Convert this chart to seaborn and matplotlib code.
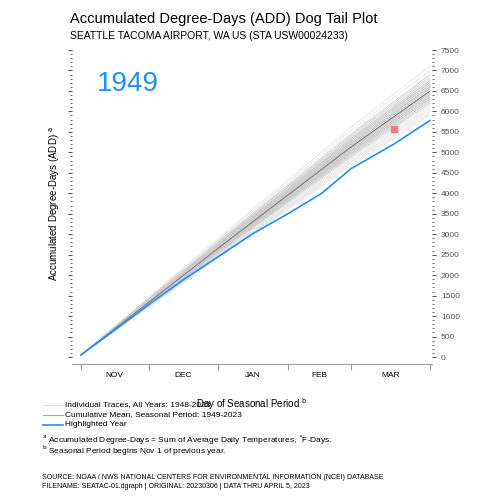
import numpy as np
import pandas as pd
import matplotlib
matplotlib.use("Agg")
import matplotlib.pyplot as plt
import seaborn as sns
from matplotlib.ticker import MultipleLocator

# checkpoints: day of seasonal period (Nov 1 = 1)
days_ck = [1, 31, 62, 93, 121, 156]
mean_ck = [50, 1330, 2660, 3960, 5130, 6490]
hl_days = [1, 16, 31, 46, 62, 77, 93, 108, 121, 140, 156]
hl_ck = [50, 660, 1280, 1870, 2450, 3000, 3500, 4000, 4600, 5200, 5775]

# estimated end-of-period totals, 1948-2023
years = list(range(1948, 2024))
end_totals = [6050, 5775, 5900, 6200, 6350, 6300, 6100, 6000, 5950, 6250, 6600, 6400,
              6350, 6450, 6300, 6500, 6250, 6400, 6550, 6300, 6350, 6150, 6450, 6200,
              6300, 6400, 6250, 6350, 6500, 6600, 6300, 6450, 6550, 6650, 6400, 6700,
              6350, 6200, 6600, 6750, 6500, 6300, 6450, 6650, 6800, 6400, 6550, 6700,
              6600, 6500, 6650, 6400, 6550, 6750, 6450, 6600, 6700, 6500, 6350, 6850,
              6600, 6700, 6550, 6900, 6750, 6650, 7000, 6800, 6600, 6900, 7100, 6750,
              6550, 6850, 6700, 6400]
highlight_year = 1949
point_day, point_val = 140, 5580

month_edges = [1, 31, 62, 93, 121, 156]
month_labels = ["NOV", "DEC", "JAN", "FEB", "MAR"]

days = np.arange(1, 157)
mean_curve = np.interp(days, days_ck, mean_ck)
hl_curve = np.interp(days, hl_days, hl_ck)

rows = []
for y, tot in zip(years, end_totals):
    if y == highlight_year:
        continue
    rows.append(pd.DataFrame({"day": days, "add": 50 + (mean_curve - 50) * (tot - 50) / (6490 - 50), "year": y}))
traces = pd.concat(rows)

plt.rcParams["font.family"] = ["Liberation Sans", "DejaVu Sans"]
fig = plt.figure(figsize=(5, 5), dpi=100)
ax = fig.add_axes([0.144, 0.286, 0.72, 0.614])

sns.lineplot(data=traces, x="day", y="add", units="year", estimator=None,
             color="#cccccc", lw=0.5, alpha=0.6, ax=ax, legend=False)
sns.lineplot(x=days, y=mean_curve, color="#777777", lw=0.7, ax=ax)
sns.lineplot(x=days, y=hl_curve, color="#1e90ff", lw=1.2, ax=ax)
ax.plot([point_day], [point_val], "s", color="#f08080", ms=4)

ax.set_xlim(-3, 157)
ax.set_ylim(0, 7500)
ax.yaxis.set_major_locator(MultipleLocator(500))
ax.yaxis.set_minor_locator(MultipleLocator(100))
ax.tick_params(axis="y", which="both", left=True, right=True, labelleft=False,
               labelright=True, labelsize=6, colors="#555555", length=3)
ax.tick_params(axis="y", which="minor", length=1.5)
ax.set_xticks(month_edges)
ax.set_xticklabels([])
ax.set_xticks([(a + b) / 2 for a, b in zip(month_edges[:-1], month_edges[1:])], minor=True)
ax.set_xticklabels(month_labels, minor=True)
ax.tick_params(axis="x", which="minor", length=0, pad=6, labelsize=6)
ax.tick_params(axis="x", which="major", length=4, colors="#999999")
for s in ["top", "right", "left"]:
    ax.spines[s].set_visible(False)
ax.spines["bottom"].set_position(("outward", 5))
ax.spines["bottom"].set_color("#999999")
ax.set_xlabel("Day of Seasonal Period $^{\\mathrm{b}}$", fontsize=7, labelpad=12)
ax.set_ylabel("Accumulated Degree-Days (ADD) $^{\\mathrm{a}}$", fontsize=7)
ax.text(8, 6500, str(highlight_year), fontsize=20, color="#1e90ff")

fig.text(0.14, 0.955, "Accumulated Degree-Days (ADD) Dog Tail Plot", fontsize=10.5)
fig.text(0.14, 0.922, "SEATTLE TACOMA AIRPORT, WA US (STA USW00024233)", fontsize=7.5)

fig.lines.append(plt.Line2D([0.085, 0.125], [0.19, 0.19], color="#dddddd", lw=0.6, transform=fig.transFigure))
fig.lines.append(plt.Line2D([0.085, 0.125], [0.17, 0.17], color="#aaaaaa", lw=0.8, transform=fig.transFigure))
fig.lines.append(plt.Line2D([0.085, 0.125], [0.15, 0.15], color="#1e90ff", lw=1.2, transform=fig.transFigure))
fig.text(0.13, 0.19, "Individual Traces, All Years: 1948-2023", fontsize=6, va="center")
fig.text(0.13, 0.17, "Cumulative Mean, Seasonal Period: 1949-2023", fontsize=6, va="center")
fig.text(0.13, 0.15, "Highlighted Year", fontsize=6, va="center")
fig.text(0.085, 0.122, "$^{\\mathrm{a}}$ Accumulated Degree-Days = Sum of Average Daily Temperatures, $^{\\circ}$F-Days.", fontsize=6, va="center")
fig.text(0.085, 0.098, "$^{\\mathrm{b}}$ Seasonal Period begins Nov 1 of previous year.", fontsize=6, va="center")
fig.text(0.085, 0.045, "SOURCE: NOAA / NWS NATIONAL CENTERS FOR ENVIRONMENTAL INFORMATION (NCEI) DATABASE", fontsize=5, va="center")
fig.text(0.085, 0.028, "FILENAME: SEATAC-01.dgraph | ORIGINAL: 20230306 | DATA THRU APRIL 5, 2023", fontsize=5, va="center")

fig.savefig("out.png", dpi=100)
